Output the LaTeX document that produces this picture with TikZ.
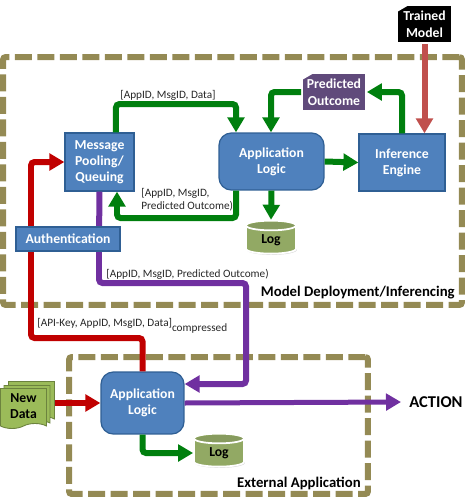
\documentclass[tikz,border=0pt]{standalone}
\usepackage{fontspec}
\setmainfont{Carlito}
\usepackage{xcolor}
\usetikzlibrary{arrows.meta, positioning, shapes.geometric, shapes.symbols, shadows}
\definecolor{mBlue}{HTML}{4F81BD}
\definecolor{mBlueDark}{HTML}{2F5F94}
\definecolor{mOlive}{HTML}{948A54}
\definecolor{mGreen}{HTML}{007F0E}
\definecolor{mRed}{HTML}{C00000}
\definecolor{mPale}{HTML}{C0504D}
\definecolor{mPurple}{HTML}{7030A0}
\definecolor{mPlum}{HTML}{604A7B}
\definecolor{mLeaf}{HTML}{9BBB59}
\begin{document}
\begin{tikzpicture}[
  x=0.02cm, y=-0.02cm,
  softshadow/.style={drop shadow={opacity=0.3, shadow xshift=0.5pt, shadow yshift=-0.7pt}},
  procbox/.style={draw=mBlueDark, line width=0.7pt, fill=mBlue, text=white, align=center,
                  font=\fontsize{7.8}{9.2}\selectfont\bfseries, inner sep=0pt},
  zonebox/.style={draw=mOlive, line width=0.12cm, rounded corners=1.5pt, inner sep=0pt,
                  dash pattern=on 0.34cm off 0.11cm},
  snipbox/.style={fill=#1, draw=white, line width=1pt, softshadow, text=white, align=center,
                  minimum height=0.76cm, inner sep=0pt,
                  path picture={\fill[white] (path picture bounding box.north west) -- ++(0.24cm,0) -- ++(-0.24cm,-0.14cm) -- cycle;},
                  execute at begin node={\rule{0pt}{8.5pt}},
                  font=\fontsize{7.8}{9.4}\selectfont\bfseries},
  logdb/.style={cylinder, shape border rotate=90, aspect=0.5, draw=white, line width=1pt,
                cylinder uses custom fill, cylinder body fill=mLeaf, cylinder end fill=mLeaf!90!black,
                softshadow, minimum width=1.0cm, minimum height=0.66cm, inner sep=0pt,
                font=\fontsize{7.8}{9}\selectfont\bfseries},
  sheet/.style={tape, tape bend top=none, tape bend bottom=in and out, tape bend height=0.1cm,
                draw=mLeaf!70!black, line width=0.5pt, fill=mLeaf, minimum width=0.92cm,
                minimum height=0.8cm, inner sep=0pt, align=center,
                font=\fontsize{7.8}{9.2}\selectfont\bfseries},
  flow/.style={-{Triangle[length=0.3cm, width=0.33cm]}, line width=0.12cm, rounded corners=2pt, #1},
  flow/.default=mGreen,
  tag/.style={font=\fontsize{6.4}{7.4}\selectfont, align=left, inner sep=0pt, text=black!85},
  zonetag/.style={font=\fontsize{8.4}{9}\selectfont\bfseries, inner sep=0pt}]
  \useasboundingbox (0,0) rectangle (474,501);
  % zones
  \node[zonebox, minimum width=9.18cm, minimum height=4.96cm] (deploy) at (232.5,181) {};
  \node[zonebox, minimum width=5.98cm, minimum height=2.74cm] (external) at (218.5,425.5) {};
  % boxes
  \node[procbox, minimum width=1.38cm, minimum height=1.16cm] (queue) at (99.5,162) {Message\\Pooling/\\Queuing};
  \node[procbox, rounded corners=7pt, minimum width=2.1cm, minimum height=1.14cm] (app) at (271.5,161.5) {Application\\Logic};
  \node[procbox, minimum width=1.72cm, minimum height=1.14cm] (engine) at (402,162.5) {Inference\\Engine};
  \node[snipbox=mPlum, minimum width=1.28cm] (outcome) at (334,92) {Predicted\\Outcome};
  \node[snipbox=black, minimum width=1.1cm] (trained) at (424.5,24) {Trained\\Model};
  \node[logdb] (log) at (271,240) {Log};
  \node[procbox, rounded corners=7pt, minimum width=1.66cm, minimum height=1.24cm] (client) at (142.5,403) {Application\\Logic};
  \node[logdb] (extlog) at (219,453) {Log};
  \node[sheet] at (31.5,399) {};
  \node[sheet] at (27,403) {};
  \node[sheet] (newdata) at (23.5,406) {New\\Data};
  \node[font=\fontsize{9.4}{10}\selectfont\bfseries, inner sep=0pt] (action) at (436,402) {ACTION};
  % connectors
  \draw[flow] ([xshift=0.33cm]queue.north) |- (236,104) -- (app.north -| 236,0);
  \draw[flow] (app.south -| 236,0) |- (117,218) -- (queue.south -| 117,0);
  \draw[flow] (outcome.west) -| ([xshift=-0.01cm]app.north);
  \draw[flow] (engine.north) |- (outcome.east);
  \draw[flow] (app.east) -- (engine.west);
  \draw[flow] (app.south) -- (log.north);
  \draw[flow] (client.south) |- (extlog.west);
  \draw[flow=mPale] (trained.south) -- (engine.north -| trained.south);
  \draw[flow=mRed] (client.north) |- (31,338) |- (queue.west);
  \draw[flow=mRed] (client.west -| 55,0) -- (client.west);
  \draw[mPurple, line width=0.12cm] (queue.south) -- (99,240);
  \draw[flow=mPurple] (99,240) |- (246,283) |- (client.east |- 0,384);
  \draw[flow=mPurple, line width=0.1cm] (client.east) -- (action.west -| 401,0);
  % on top of the lines
  \node[procbox, minimum width=2.08cm, minimum height=0.48cm] (auth) at (68,239) {Authentication};
  % labels
  \node[tag, anchor=west] (datatag) at (120,95) {[AppID, MsgID, Data]};
  \node[tag, anchor=west] (backtag) at (141,200) {[AppID, MsgID,\\Predicted Outcome)};
  \node[tag, anchor=west] (resulttag) at (106,274) {[AppID, MsgID, Predicted Outcome)};
  \node[tag, anchor=west] (keytag) at (37,326) {[API-Key, AppID, MsgID, Data]\raisebox{-2.5pt}{compressed}};
  \node[zonetag, anchor=east] (deploytag) at (455,293) {Model Deployment/Inferencing};
  \node[zonetag, anchor=east] (externaltag) at (361,483) {External Application};
\end{tikzpicture}
\end{document}
